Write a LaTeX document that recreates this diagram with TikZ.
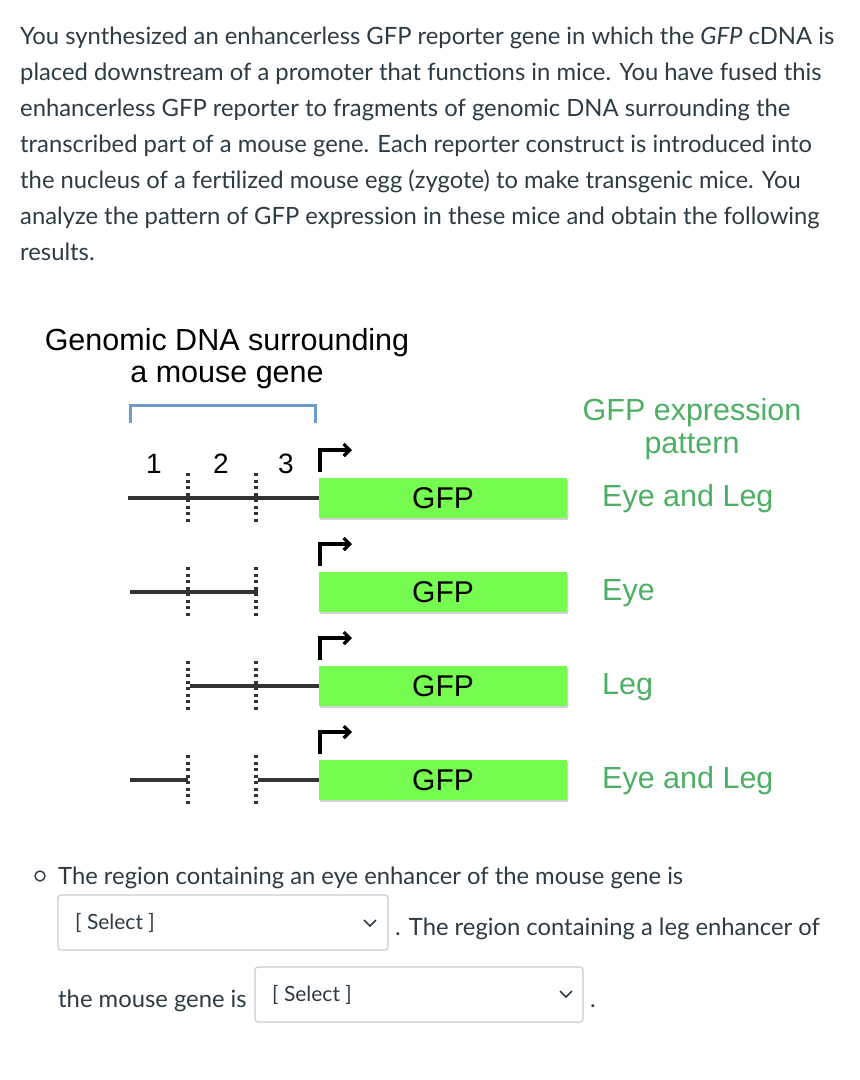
\documentclass[tikz,border=0pt]{standalone}
\usepackage{fontspec}
\usetikzlibrary{shadows,arrows.meta}
\setmainfont{Lato}
\newfontfamily\arial{Liberation Sans}
\definecolor{txt}{RGB}{45,59,69}
\definecolor{gtxt}{RGB}{76,175,100}
\definecolor{gfpg}{RGB}{118,252,80}
\definecolor{brk}{RGB}{110,155,210}
\definecolor{bord}{RGB}{200,205,210}
\begin{document}
\begin{tikzpicture}[x=1pt,y=-1pt,
  para/.style={anchor=base west,inner sep=0,text=txt,font=\fontsize{23.8}{28}\selectfont},
  lab/.style={inner sep=0,font=\arial\fontsize{30.5}{34}\selectfont},
  glab/.style={inner sep=0,anchor=west,text=gtxt,font=\arial\fontsize{30.5}{34}\selectfont},
  gfpbox/.style={fill=gfpg,minimum width=248pt,minimum height=40pt,inner sep=0,font=\arial\fontsize{30}{34}\selectfont},
  dna/.style={line width=3.4pt,black!80},
  cut/.style={line width=3.6pt,black!80,dash pattern=on 3pt off 3.5pt},
  prom/.style={line width=3.2pt,-{Straight Barb[length=6pt,width=12pt]}},
  selbox/.style={draw=bord,rounded corners=3pt,line width=1.2pt}]
\useasboundingbox (0,0) rectangle (860,1080);
\node[para] (p1) at (20,44) {You synthesized an enhancerless GFP reporter gene in which the \textit{GFP} cDNA is};
\node[para] (p2) at (20,80) {placed downstream of a promoter that functions in mice. You have fused this};
\node[para] (p3) at (20,116) {enhancerless GFP reporter to fragments of genomic DNA surrounding the};
\node[para] (p4) at (20,152) {transcribed part of a mouse gene. Each reporter construct is introduced into};
\node[para] (p5) at (20,188) {the nucleus of a fertilized mouse egg (zygote) to make transgenic mice. You};
\node[para] (p6) at (20,224) {analyze the pattern of GFP expression in these mice and obtain the following};
\node[para] (p7) at (20,260) {results.};
% title
\node[lab] (t1) at (227,343) {Genomic DNA surrounding};
\node[lab] (t2) at (227,377) {a mouse gene};
\draw[brk,line width=3pt] (130,423) -- (130,405) -- (315,405) -- (315,423);
\node[lab,text=gtxt] (e1) at (692,413) {GFP expression};
\node[lab,text=gtxt] (e2) at (692,447) {pattern};
\node[lab,font=\arial\fontsize{28}{30}\selectfont] (n1) at (154,464) {1};
\node[lab,font=\arial\fontsize{28}{30}\selectfont] (n2) at (221,464) {2};
\node[lab,font=\arial\fontsize{28}{30}\selectfont] (n3) at (286,464) {3};
% rows
\foreach \r/\y/\l in {1/498/Eye and Leg,2/592/Eye,3/686/Leg,4/780/Eye and Leg}{
  \node[gfpbox,drop shadow={shadow xshift=1pt,shadow yshift=-1.5pt,opacity=0.35}] (g\r) at (443,\y) {GFP};
  \node[glab] (l\r) at (602,\y+1) {\l};
  \coordinate (pa\r) at (320,\y-26);
  \coordinate (pb\r) at (320,\y-48);
  \coordinate (pc\r) at (352,\y-48);
  \draw[prom] (pa\r) -- (pb\r) -- (pc\r);
  \draw[cut] (188,\y-25) -- (188,\y+25);
  \draw[cut] (256,\y-25) -- (256,\y+25);
}
\coordinate (s1) at (128,498); \draw[dna] (s1) -- (g1.west);
\coordinate (s2) at (130,592); \coordinate (e2x) at (258,592); \draw[dna] (s2) -- (e2x);
\coordinate (s3) at (190,686); \draw[dna] (s3) -- (g3.west);
\coordinate (s4) at (130,780); \coordinate (e4x) at (188,780); \draw[dna] (s4) -- (e4x);
\coordinate (s4b) at (258,780); \draw[dna] (s4b) -- (g4.west);
% question
\draw[txt,line width=1.4pt] (40,876) circle (5pt);
\node[para] (q1) at (58,884) {The region containing an eye enhancer of the mouse gene is};
\draw[selbox] (58,895) rectangle (388,950);
\node[para,font=\fontsize{21}{24}\selectfont] (s1t) at (75,929) {[ Select ]};
\draw[txt,line width=1.6pt] (364,920) -- (370,926) -- (376,920);
\node[para] (q2) at (395,935) {. The region containing a leg enhancer of};
\node[para] (q3) at (58,1007) {the mouse gene is};
\draw[selbox] (255,967) rectangle (583,1022);
\node[para,font=\fontsize{21}{24}\selectfont] (s2t) at (272,1001) {[ Select ]};
\draw[txt,line width=1.6pt] (560,991) -- (566,997) -- (572,991);
\node[para] (q4) at (590,1007) {.};
\end{tikzpicture}
\end{document}
